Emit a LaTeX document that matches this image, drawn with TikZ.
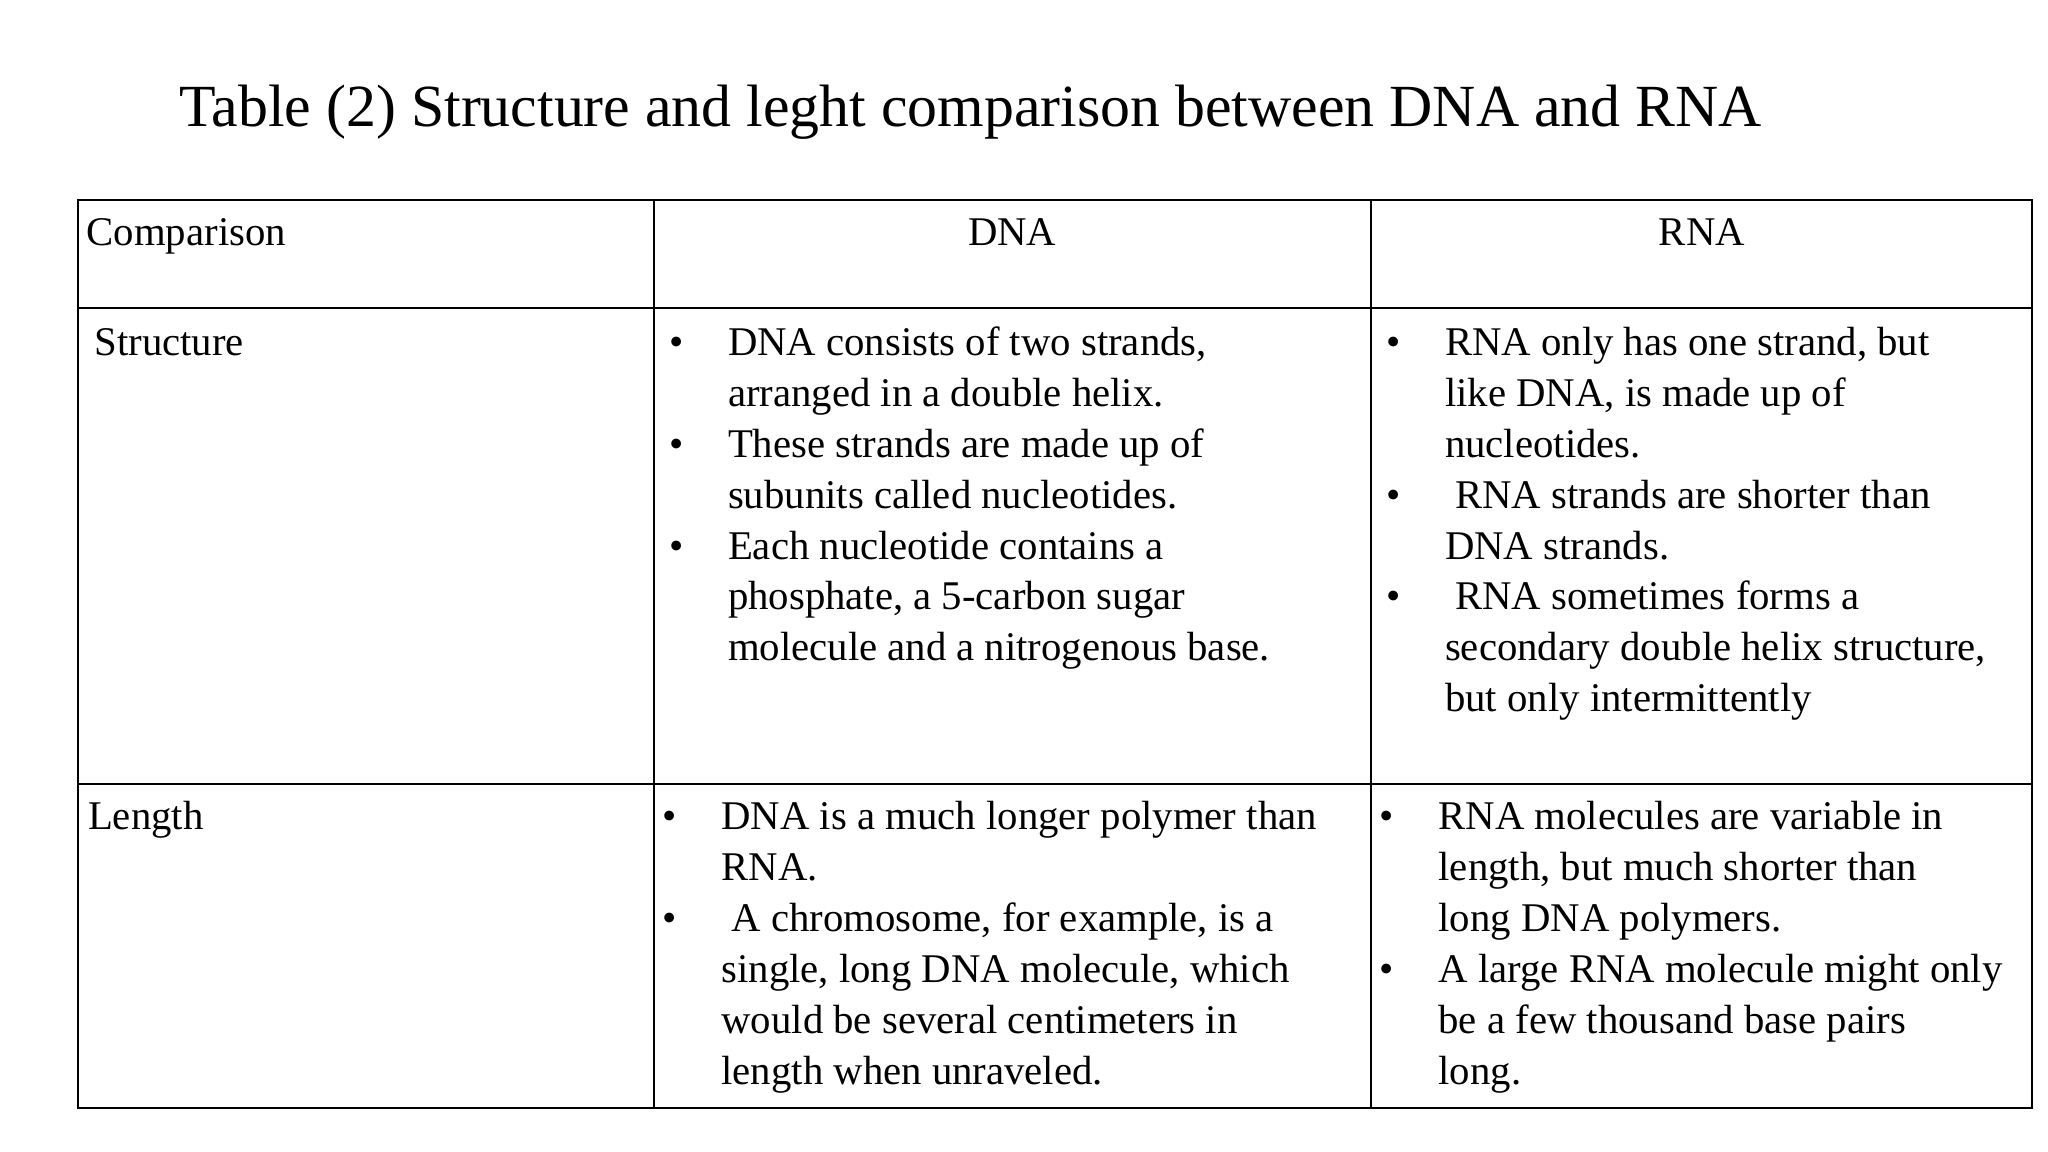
\documentclass[tikz,border=0pt]{standalone}
\usepackage{fontspec}
\setmainfont{Liberation Serif}
\begin{document}
\begin{tikzpicture}[x=0.5pt,y=-0.5pt,
  txt/.style={anchor=base west,inner sep=0pt,align=left,font=\fontsize{15.6}{19.5}\selectfont},
  bul/.style={anchor=base west,inner sep=0pt,font=\fontsize{15.6}{19.5}\selectfont},
  grid/.style={line width=0.8pt}]
\useasboundingbox (0,0) rectangle (1568,882);
\node[anchor=base west,inner sep=0pt,font=\fontsize{22.9}{26}\selectfont] (title) at (137,97) {Table (2) Structure and leght comparison between DNA and RNA};
\draw[grid] (60,153) rectangle (1556,848);
\draw[grid] (60,236) -- (1556,236) (60,600) -- (1556,600) (501,153) -- (501,848) (1050,153) -- (1050,848);
\node[txt] (c1) at (66,188) {Comparison};
\node[txt,anchor=base] (c2) at (775,188) {DNA};
\node[txt,anchor=base] (c3) at (1303,188) {RNA};
\node[txt] (r1) at (72,272) {Structure};
\node[txt] (r2) at (67,635) {Length};
% DNA structure (base anchor = last line baseline)
\node[bul] (b1) at (512,272) {•};
\node[txt] (t1) at (557,311) {DNA consists of two strands,\\arranged in a double helix.};
\node[bul] (b2) at (512,350) {•};
\node[txt] (t2) at (557,389) {These strands are made up of\\subunits called nucleotides.};
\node[bul] (b3) at (512,428) {•};
\node[txt] (t3) at (557,506) {Each nucleotide contains a\\phosphate, a 5-carbon sugar\\molecule and a nitrogenous base.};
% RNA structure
\node[bul] (b4) at (1061,272) {•};
\node[txt] (t4) at (1106,350) {RNA only has one strand, but\\like DNA, is made up of\\nucleotides.};
\node[bul] (b5) at (1061,389) {•};
\node[txt] (t5) at (1106,428) {\ RNA strands are shorter than\\DNA strands.};
\node[bul] (b6) at (1061,467) {•};
\node[txt] (t6) at (1106,545) {\ RNA sometimes forms a\\secondary double helix structure,\\but only intermittently};
% DNA length
\node[bul] (b7) at (507,635) {•};
\node[txt] (t7) at (552,674) {DNA is a much longer polymer than\\RNA.};
\node[bul] (b8) at (507,713) {•};
\node[txt] (t8) at (552,830) {\ A chromosome, for example, is a\\single, long DNA molecule, which\\would be several centimeters in\\length when unraveled.};
% RNA length
\node[bul] (b9) at (1056,635) {•};
\node[txt] (t9) at (1101,713) {RNA molecules are variable in\\length, but much shorter than\\long DNA polymers.};
\node[bul] (b10) at (1056,752) {•};
\node[txt] (t10) at (1101,830) {A large RNA molecule might only\\be a few thousand base pairs\\long.};
\end{tikzpicture}
\end{document}
